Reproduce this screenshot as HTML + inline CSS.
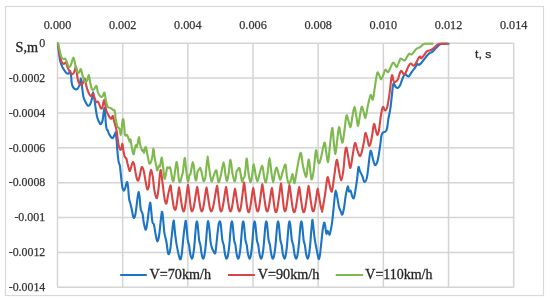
<!DOCTYPE html><html><head><meta charset="utf-8"><style>html,body{margin:0;padding:0;background:#fff;}svg{display:block;}</style></head><body>
<svg width="550" height="303" viewBox="0 0 550 303">
<rect x="0" y="0" width="550" height="303" fill="#fff"/>
<rect x="5.5" y="6.5" width="538" height="289" fill="none" stroke="#d9d9d9" stroke-width="1.2"/>
<line x1="57.50" y1="43.20" x2="57.50" y2="287.29" stroke="#d4d4d4" stroke-width="1.5"/>
<line x1="122.67" y1="43.20" x2="122.67" y2="287.29" stroke="#d4d4d4" stroke-width="1.5"/>
<line x1="187.84" y1="43.20" x2="187.84" y2="287.29" stroke="#d4d4d4" stroke-width="1.5"/>
<line x1="253.01" y1="43.20" x2="253.01" y2="287.29" stroke="#d4d4d4" stroke-width="1.5"/>
<line x1="318.18" y1="43.20" x2="318.18" y2="287.29" stroke="#d4d4d4" stroke-width="1.5"/>
<line x1="383.35" y1="43.20" x2="383.35" y2="287.29" stroke="#d4d4d4" stroke-width="1.5"/>
<line x1="448.52" y1="43.20" x2="448.52" y2="287.29" stroke="#d4d4d4" stroke-width="1.5"/>
<line x1="513.69" y1="43.20" x2="513.69" y2="287.29" stroke="#d4d4d4" stroke-width="1.5"/>
<line x1="57.50" y1="43.20" x2="513.69" y2="43.20" stroke="#d4d4d4" stroke-width="1.5"/>
<line x1="57.50" y1="78.07" x2="513.69" y2="78.07" stroke="#d4d4d4" stroke-width="1.5"/>
<line x1="57.50" y1="112.94" x2="513.69" y2="112.94" stroke="#d4d4d4" stroke-width="1.5"/>
<line x1="57.50" y1="147.81" x2="513.69" y2="147.81" stroke="#d4d4d4" stroke-width="1.5"/>
<line x1="57.50" y1="182.68" x2="513.69" y2="182.68" stroke="#d4d4d4" stroke-width="1.5"/>
<line x1="57.50" y1="217.55" x2="513.69" y2="217.55" stroke="#d4d4d4" stroke-width="1.5"/>
<line x1="57.50" y1="252.42" x2="513.69" y2="252.42" stroke="#d4d4d4" stroke-width="1.5"/>
<line x1="57.50" y1="287.29" x2="513.69" y2="287.29" stroke="#d4d4d4" stroke-width="1.5"/>
<text x="57.50" y="29.1" font-family="Liberation Serif, serif" font-size="13.3" text-anchor="middle" fill="#333" stroke="#333" stroke-width="0.25" textLength="27.5" lengthAdjust="spacingAndGlyphs">0.000</text>
<text x="122.67" y="29.1" font-family="Liberation Serif, serif" font-size="13.3" text-anchor="middle" fill="#333" stroke="#333" stroke-width="0.25" textLength="27.5" lengthAdjust="spacingAndGlyphs">0.002</text>
<text x="187.84" y="29.1" font-family="Liberation Serif, serif" font-size="13.3" text-anchor="middle" fill="#333" stroke="#333" stroke-width="0.25" textLength="27.5" lengthAdjust="spacingAndGlyphs">0.004</text>
<text x="253.01" y="29.1" font-family="Liberation Serif, serif" font-size="13.3" text-anchor="middle" fill="#333" stroke="#333" stroke-width="0.25" textLength="27.5" lengthAdjust="spacingAndGlyphs">0.006</text>
<text x="318.18" y="29.1" font-family="Liberation Serif, serif" font-size="13.3" text-anchor="middle" fill="#333" stroke="#333" stroke-width="0.25" textLength="27.5" lengthAdjust="spacingAndGlyphs">0.008</text>
<text x="383.35" y="29.1" font-family="Liberation Serif, serif" font-size="13.3" text-anchor="middle" fill="#333" stroke="#333" stroke-width="0.25" textLength="27.5" lengthAdjust="spacingAndGlyphs">0.010</text>
<text x="448.52" y="29.1" font-family="Liberation Serif, serif" font-size="13.3" text-anchor="middle" fill="#333" stroke="#333" stroke-width="0.25" textLength="27.5" lengthAdjust="spacingAndGlyphs">0.012</text>
<text x="513.69" y="29.1" font-family="Liberation Serif, serif" font-size="13.3" text-anchor="middle" fill="#333" stroke="#333" stroke-width="0.25" textLength="27.5" lengthAdjust="spacingAndGlyphs">0.014</text>
<text x="39.30" y="46.90" font-family="Liberation Serif, serif" font-size="13" fill="#333" stroke="#333" stroke-width="0.25" textLength="6.0" lengthAdjust="spacingAndGlyphs">0</text>
<text x="8.70" y="81.77" font-family="Liberation Serif, serif" font-size="13" fill="#333" stroke="#333" stroke-width="0.25" textLength="36.6" lengthAdjust="spacingAndGlyphs">-0.0002</text>
<text x="8.70" y="116.64" font-family="Liberation Serif, serif" font-size="13" fill="#333" stroke="#333" stroke-width="0.25" textLength="36.6" lengthAdjust="spacingAndGlyphs">-0.0004</text>
<text x="8.70" y="151.51" font-family="Liberation Serif, serif" font-size="13" fill="#333" stroke="#333" stroke-width="0.25" textLength="36.6" lengthAdjust="spacingAndGlyphs">-0.0006</text>
<text x="8.70" y="186.38" font-family="Liberation Serif, serif" font-size="13" fill="#333" stroke="#333" stroke-width="0.25" textLength="36.6" lengthAdjust="spacingAndGlyphs">-0.0008</text>
<text x="14.40" y="221.25" font-family="Liberation Serif, serif" font-size="13" fill="#333" stroke="#333" stroke-width="0.25" textLength="30.9" lengthAdjust="spacingAndGlyphs">-0.001</text>
<text x="8.70" y="256.12" font-family="Liberation Serif, serif" font-size="13" fill="#333" stroke="#333" stroke-width="0.25" textLength="36.6" lengthAdjust="spacingAndGlyphs">-0.0012</text>
<text x="8.70" y="290.99" font-family="Liberation Serif, serif" font-size="13" fill="#333" stroke="#333" stroke-width="0.25" textLength="36.6" lengthAdjust="spacingAndGlyphs">-0.0014</text>
<text x="15.5" y="52.2" font-family="Liberation Serif, serif" font-size="13.6" fill="#262626" stroke="#262626" stroke-width="0.3" textLength="22.5" lengthAdjust="spacingAndGlyphs">S,m</text>
<text x="475" y="58.4" font-family="Liberation Sans, sans-serif" font-size="11.8" fill="#262626" stroke="#262626" stroke-width="0.25" textLength="16.3" lengthAdjust="spacingAndGlyphs">t, s</text>
<path d="M57.90,43.60 C58.02,44.67 58.23,47.20 58.60,50.00 C58.97,52.80 59.48,57.58 60.10,60.40 C60.72,63.22 61.57,65.22 62.30,66.90 C63.03,68.58 63.78,69.45 64.50,70.50 C65.22,71.55 65.88,72.70 66.60,73.20 C67.32,73.70 68.18,73.82 68.80,73.50 C69.42,73.18 69.88,70.58 70.30,71.30 C70.72,72.02 71.07,75.85 71.30,77.80 C71.53,79.75 71.38,81.40 71.70,83.00 C72.02,84.60 72.58,86.35 73.20,87.40 C73.82,88.45 74.68,89.07 75.40,89.30 C76.12,89.53 76.78,89.60 77.50,88.80 C78.22,88.00 79.13,86.20 79.70,84.50 C80.27,82.80 80.53,78.48 80.90,78.60 C81.27,78.72 81.48,82.17 81.90,85.20 C82.32,88.23 82.80,94.02 83.40,96.80 C84.00,99.58 84.78,100.45 85.50,101.90 C86.22,103.35 86.97,105.02 87.70,105.50 C88.43,105.98 89.17,106.00 89.90,104.80 C90.63,103.60 91.57,100.40 92.10,98.30 C92.63,96.20 92.73,92.20 93.10,92.20 C93.47,92.20 93.87,95.58 94.30,98.30 C94.73,101.02 95.22,105.35 95.70,108.50 C96.18,111.65 96.53,114.77 97.20,117.20 C97.87,119.63 99.03,122.00 99.70,123.10 C100.37,124.20 100.72,124.28 101.20,123.80 C101.68,123.32 102.03,122.83 102.60,120.20 C103.17,117.57 104.07,107.48 104.60,108.00 C105.13,108.52 105.45,119.80 105.80,123.30 C106.15,126.80 106.35,127.77 106.70,129.00 C107.05,130.23 107.57,130.00 107.90,130.70 C108.23,131.40 108.35,132.38 108.70,133.20 C109.05,134.02 109.58,134.92 110.00,135.60 C110.42,136.28 110.77,136.85 111.20,137.30 C111.63,137.75 112.18,138.43 112.60,138.30 C113.02,138.17 113.32,137.22 113.70,136.50 C114.08,135.78 114.57,134.70 114.90,134.00 C115.23,133.30 115.48,131.88 115.70,132.30 C115.92,132.72 116.03,135.05 116.20,136.50 C116.37,137.95 116.52,138.75 116.70,141.00 C116.88,143.25 116.98,146.57 117.30,150.00 C117.62,153.43 118.17,159.00 118.60,161.60 C119.03,164.20 119.57,163.83 119.90,165.60 C120.23,167.37 120.32,169.57 120.60,172.20 C120.88,174.83 121.28,178.77 121.60,181.40 C121.92,184.03 122.12,186.47 122.50,188.00 C122.88,189.53 123.45,190.60 123.90,190.60 C124.35,190.60 124.83,188.98 125.20,188.00 C125.57,187.02 125.77,185.68 126.10,184.70 C126.43,183.72 126.85,181.55 127.20,182.10 C127.55,182.65 127.88,185.18 128.20,188.00 C128.52,190.82 128.72,196.35 129.10,199.00 C129.48,201.65 130.05,202.10 130.50,203.90 C130.95,205.70 131.30,207.53 131.80,209.80 C132.30,212.07 132.95,216.52 133.50,217.50 C134.05,218.48 134.62,217.42 135.10,215.70 C135.58,213.98 135.97,210.38 136.40,207.20 C136.83,204.02 137.30,199.13 137.70,196.60 C138.10,194.07 138.47,191.78 138.80,192.00 C139.13,192.22 139.38,195.07 139.70,197.90 C140.02,200.73 140.22,206.33 140.70,209.00 C141.18,211.67 142.10,211.67 142.60,213.90 C143.10,216.13 143.25,219.88 143.70,222.40 C144.15,224.92 144.87,228.00 145.30,229.00 C145.73,230.00 145.90,229.93 146.30,228.40 C146.70,226.87 147.25,223.00 147.70,219.80 C148.15,216.60 148.57,212.07 149.00,209.20 C149.43,206.33 149.93,202.37 150.30,202.60 C150.67,202.83 150.83,207.30 151.20,210.60 C151.57,213.90 152.05,220.10 152.50,222.40 C152.95,224.70 153.40,222.53 153.90,224.40 C154.40,226.27 154.93,230.78 155.50,233.60 C156.07,236.42 156.70,240.98 157.30,241.30 C157.90,241.62 158.50,239.20 159.10,235.50 C159.70,231.80 160.38,223.05 160.90,219.10 C161.42,215.15 161.75,210.90 162.20,211.80 C162.65,212.70 163.22,220.87 163.60,224.50 C163.98,228.13 164.03,230.72 164.50,233.60 C164.97,236.48 165.78,238.47 166.40,241.80 C167.02,245.13 167.60,252.08 168.20,253.60 C168.80,255.12 169.40,253.92 170.00,250.90 C170.60,247.88 171.20,240.57 171.80,235.50 C172.40,230.43 173.05,220.82 173.60,220.50 C174.15,220.18 174.55,229.28 175.10,233.60 C175.65,237.92 176.08,242.15 176.90,246.40 C177.72,250.65 179.18,257.90 180.00,259.10 C180.82,260.30 181.20,257.53 181.80,253.60 C182.40,249.67 182.98,240.88 183.60,235.50 C184.22,230.12 185.06,223.17 185.50,221.30 C185.94,219.43 185.99,222.48 186.24,224.28 C186.49,226.09 186.74,229.51 186.98,232.12 C187.23,234.73 187.50,238.21 187.72,239.95 C187.95,241.69 188.11,241.63 188.35,242.56 C188.59,243.49 188.90,244.12 189.15,245.55 C189.39,246.97 189.58,249.46 189.83,251.14 C190.08,252.82 190.32,254.37 190.63,255.62 C190.94,256.86 191.35,258.41 191.71,258.60 C192.07,258.79 192.43,258.23 192.80,256.74 C193.17,255.24 193.63,252.01 193.94,249.65 C194.24,247.29 194.37,245.42 194.62,242.56 C194.87,239.70 195.16,235.54 195.42,232.49 C195.67,229.44 195.91,226.15 196.16,224.28 C196.41,222.42 196.65,221.30 196.90,221.30 C197.15,221.30 197.39,222.48 197.63,224.28 C197.88,226.09 198.12,229.51 198.37,232.12 C198.61,234.73 198.88,238.21 199.10,239.95 C199.33,241.69 199.49,241.63 199.72,242.56 C199.96,243.49 200.27,244.12 200.52,245.55 C200.76,246.97 200.95,249.46 201.19,251.14 C201.44,252.82 201.67,254.37 201.98,255.62 C202.30,256.86 202.70,258.41 203.06,258.60 C203.42,258.79 203.76,258.23 204.13,256.74 C204.50,255.24 204.96,252.01 205.26,249.65 C205.56,247.29 205.70,245.42 205.94,242.56 C206.18,239.70 206.48,235.54 206.73,232.49 C206.99,229.44 207.22,226.15 207.47,224.28 C207.71,222.42 207.88,220.55 208.20,221.30 C208.52,222.05 208.99,225.34 209.38,228.76 C209.77,232.18 210.13,238.58 210.56,241.82 C210.99,245.05 211.48,246.60 211.98,248.16 C212.47,249.71 212.96,250.33 213.51,251.14 C214.06,251.95 214.79,254.25 215.28,253.01 C215.77,251.76 216.07,247.10 216.46,243.68 C216.85,240.26 217.25,235.85 217.64,232.49 C218.03,229.13 218.43,225.40 218.82,223.54 C219.21,221.67 219.67,221.18 220.00,221.30 C220.33,221.42 220.52,222.48 220.77,224.28 C221.03,226.09 221.29,229.51 221.55,232.12 C221.80,234.73 222.08,238.21 222.32,239.95 C222.56,241.69 222.73,241.63 222.97,242.56 C223.22,243.49 223.55,244.12 223.81,245.55 C224.07,246.97 224.26,249.46 224.52,251.14 C224.78,252.82 225.03,254.37 225.35,255.62 C225.68,256.86 226.11,258.41 226.49,258.60 C226.86,258.79 227.23,258.23 227.62,256.74 C228.00,255.24 228.49,252.01 228.81,249.65 C229.12,247.29 229.26,245.42 229.52,242.56 C229.78,239.70 230.09,235.54 230.35,232.49 C230.62,229.44 230.87,226.15 231.13,224.28 C231.38,222.42 231.65,221.30 231.90,221.30 C232.15,221.30 232.39,222.48 232.63,224.28 C232.88,226.09 233.12,229.51 233.37,232.12 C233.61,234.73 233.88,238.21 234.10,239.95 C234.33,241.69 234.49,241.63 234.72,242.56 C234.96,243.49 235.27,244.12 235.52,245.55 C235.76,246.97 235.95,249.46 236.19,251.14 C236.44,252.82 236.67,254.37 236.98,255.62 C237.30,256.86 237.70,258.41 238.06,258.60 C238.42,258.79 238.76,258.23 239.13,256.74 C239.50,255.24 239.96,252.01 240.26,249.65 C240.56,247.29 240.70,245.42 240.94,242.56 C241.18,239.70 241.48,235.54 241.73,232.49 C241.99,229.44 242.22,226.15 242.47,224.28 C242.71,222.42 242.95,221.30 243.20,221.30 C243.45,221.30 243.69,222.48 243.94,224.28 C244.19,226.09 244.44,229.51 244.68,232.12 C244.93,234.73 245.19,238.21 245.42,239.95 C245.65,241.69 245.81,241.63 246.05,242.56 C246.29,243.49 246.60,244.12 246.85,245.55 C247.09,246.97 247.28,249.46 247.53,251.14 C247.78,252.82 248.02,254.37 248.33,255.62 C248.64,256.86 249.05,258.41 249.41,258.60 C249.77,258.79 250.13,258.23 250.50,256.74 C250.87,255.24 251.33,252.01 251.64,249.65 C251.94,247.29 252.07,245.42 252.32,242.56 C252.57,239.70 252.86,235.54 253.12,232.49 C253.37,229.44 253.61,226.15 253.86,224.28 C254.11,222.42 254.35,221.30 254.60,221.30 C254.85,221.30 255.11,222.48 255.36,224.28 C255.61,226.09 255.87,229.51 256.12,232.12 C256.37,234.73 256.65,238.21 256.88,239.95 C257.12,241.69 257.28,241.63 257.52,242.56 C257.77,243.49 258.09,244.12 258.34,245.55 C258.60,246.97 258.79,249.46 259.05,251.14 C259.30,252.82 259.54,254.37 259.87,255.62 C260.19,256.86 260.61,258.41 260.98,258.60 C261.35,258.79 261.71,258.23 262.09,256.74 C262.47,255.24 262.95,252.01 263.26,249.65 C263.57,247.29 263.71,245.42 263.96,242.56 C264.21,239.70 264.52,235.54 264.78,232.49 C265.04,229.44 265.29,226.15 265.54,224.28 C265.79,222.42 266.05,221.30 266.30,221.30 C266.55,221.30 266.81,222.48 267.07,224.28 C267.32,226.09 267.58,229.51 267.83,232.12 C268.09,234.73 268.37,238.21 268.60,239.95 C268.84,241.69 269.00,241.63 269.25,242.56 C269.50,243.49 269.82,244.12 270.08,245.55 C270.33,246.97 270.53,249.46 270.78,251.14 C271.04,252.82 271.29,254.37 271.61,255.62 C271.93,256.86 272.36,258.41 272.73,258.60 C273.10,258.79 273.47,258.23 273.85,256.74 C274.24,255.24 274.72,252.01 275.03,249.65 C275.35,247.29 275.48,245.42 275.74,242.56 C276.00,239.70 276.30,235.54 276.57,232.49 C276.83,229.44 277.08,226.15 277.33,224.28 C277.59,222.42 277.85,221.30 278.10,221.30 C278.35,221.30 278.59,222.48 278.84,224.28 C279.09,226.09 279.33,229.51 279.58,232.12 C279.83,234.73 280.10,238.21 280.32,239.95 C280.55,241.69 280.71,241.63 280.95,242.56 C281.19,243.49 281.50,244.12 281.75,245.55 C282.00,246.97 282.19,249.46 282.43,251.14 C282.68,252.82 282.92,254.37 283.23,255.62 C283.54,256.86 283.95,258.41 284.31,258.60 C284.67,258.79 285.03,258.23 285.40,256.74 C285.77,255.24 286.23,252.01 286.54,249.65 C286.84,247.29 286.97,245.42 287.22,242.56 C287.47,239.70 287.76,235.54 288.02,232.49 C288.27,229.44 288.51,226.15 288.76,224.28 C289.01,222.42 289.25,221.30 289.50,221.30 C289.75,221.30 290.02,222.48 290.27,224.28 C290.53,226.09 290.79,229.51 291.05,232.12 C291.30,234.73 291.58,238.21 291.82,239.95 C292.06,241.69 292.23,241.63 292.48,242.56 C292.72,243.49 293.05,244.12 293.31,245.55 C293.57,246.97 293.76,249.46 294.02,251.14 C294.28,252.82 294.53,254.37 294.86,255.62 C295.18,256.86 295.61,258.41 295.99,258.60 C296.36,258.79 296.73,258.23 297.12,256.74 C297.50,255.24 297.99,252.01 298.31,249.65 C298.62,247.29 298.76,245.42 299.02,242.56 C299.28,239.70 299.59,235.54 299.85,232.49 C300.12,229.44 300.37,226.15 300.63,224.28 C300.88,222.42 301.15,221.30 301.40,221.30 C301.65,221.30 301.89,222.48 302.13,224.28 C302.37,226.09 302.61,229.51 302.86,232.12 C303.10,234.73 303.36,238.21 303.58,239.95 C303.81,241.69 303.97,241.63 304.20,242.56 C304.43,243.49 304.74,244.12 304.98,245.55 C305.23,246.97 305.41,249.46 305.66,251.14 C305.90,252.82 306.13,254.37 306.44,255.62 C306.75,256.86 307.15,258.41 307.50,258.60 C307.86,258.79 308.20,258.23 308.57,256.74 C308.93,255.24 309.39,252.01 309.69,249.65 C309.99,247.29 310.12,245.42 310.36,242.56 C310.60,239.70 310.89,235.54 311.14,232.49 C311.40,229.44 311.63,226.28 311.87,224.28 C312.11,222.29 312.16,218.33 312.60,220.50 C313.04,222.67 313.87,232.68 314.50,237.30 C315.13,241.92 315.63,244.57 316.40,248.20 C317.17,251.83 318.35,259.40 319.10,259.10 C319.85,258.80 320.30,251.25 320.90,246.40 C321.50,241.55 322.10,233.95 322.70,230.00 C323.30,226.05 323.88,222.10 324.50,222.70 C325.12,223.30 325.85,232.23 326.40,233.60 C326.95,234.97 327.27,230.75 327.80,230.90 C328.33,231.05 328.98,235.25 329.60,234.50 C330.22,233.75 330.98,229.27 331.50,226.40 C332.02,223.53 332.18,222.03 332.70,217.30 C333.22,212.57 334.10,202.45 334.60,198.00 C335.10,193.55 335.23,190.60 335.70,190.60 C336.17,190.60 336.85,195.25 337.40,198.00 C337.95,200.75 338.45,204.88 339.00,207.10 C339.55,209.32 340.15,210.05 340.70,211.30 C341.25,212.55 341.75,215.15 342.30,214.60 C342.85,214.05 343.45,211.03 344.00,208.00 C344.55,204.97 344.97,199.98 345.60,196.40 C346.23,192.82 347.25,187.32 347.80,186.50 C348.35,185.68 348.43,190.82 348.90,191.50 C349.37,192.18 350.05,189.78 350.60,190.60 C351.15,191.42 351.65,195.17 352.20,196.40 C352.75,197.63 353.35,199.10 353.90,198.00 C354.45,196.90 354.95,193.08 355.50,189.80 C356.05,186.52 356.70,182.08 357.20,178.30 C357.70,174.52 358.05,168.28 358.50,167.10 C358.95,165.92 359.27,169.72 359.90,171.20 C360.53,172.68 361.53,174.20 362.30,176.00 C363.07,177.80 363.70,181.90 364.50,182.00 C365.30,182.10 366.22,181.15 367.10,176.60 C367.98,172.05 369.15,158.93 369.80,154.70 C370.45,150.47 370.45,150.37 371.00,151.20 C371.55,152.03 372.43,157.40 373.10,159.70 C373.77,162.00 374.32,164.60 375.00,165.00 C375.68,165.40 376.57,163.82 377.20,162.10 C377.83,160.38 378.25,157.85 378.80,154.70 C379.35,151.55 380.03,146.50 380.50,143.20 C380.97,139.90 381.13,136.70 381.60,134.90 C382.07,133.10 382.67,132.95 383.30,132.40 C383.93,131.85 384.77,132.28 385.40,131.60 C386.03,130.92 386.58,130.57 387.10,128.30 C387.62,126.03 387.98,121.10 388.50,118.00 C389.02,114.90 389.68,113.02 390.20,109.70 C390.72,106.38 391.08,102.38 391.60,98.10 C392.12,93.82 392.63,85.88 393.30,84.00 C393.97,82.12 394.90,86.13 395.60,86.80 C396.30,87.47 396.77,88.23 397.50,88.00 C398.23,87.77 399.22,86.82 400.00,85.40 C400.78,83.98 401.43,81.40 402.20,79.50 C402.97,77.60 403.88,74.72 404.60,74.00 C405.32,73.28 405.78,74.82 406.50,75.20 C407.22,75.58 407.95,76.95 408.90,76.30 C409.85,75.65 411.17,72.75 412.20,71.30 C413.23,69.85 414.25,68.82 415.10,67.60 C415.95,66.38 416.57,64.48 417.30,64.00 C418.03,63.52 418.30,65.55 419.50,64.70 C420.70,63.85 423.30,60.35 424.50,58.90 C425.70,57.45 425.85,56.95 426.70,56.00 C427.55,55.05 428.67,53.90 429.60,53.20 C430.53,52.50 431.38,52.50 432.30,51.80 C433.22,51.10 434.18,49.92 435.10,49.00 C436.02,48.08 437.05,47.03 437.80,46.30 C438.55,45.57 438.98,45.00 439.60,44.60 C440.22,44.20 440.02,44.03 441.50,43.90 C442.98,43.77 447.33,43.82 448.50,43.80" fill="none" stroke="#1c74c4" stroke-width="2.1" stroke-linejoin="round" stroke-linecap="round"/>
<path d="M57.90,43.60 C58.05,44.50 58.43,46.93 58.80,49.00 C59.17,51.07 59.65,53.87 60.10,56.00 C60.55,58.13 60.90,60.47 61.50,61.80 C62.10,63.13 62.97,63.88 63.70,64.00 C64.43,64.12 65.28,62.02 65.90,62.50 C66.52,62.98 66.80,65.43 67.40,66.90 C68.00,68.37 68.78,70.08 69.50,71.30 C70.22,72.52 70.97,73.97 71.70,74.20 C72.43,74.43 73.17,73.92 73.90,72.70 C74.63,71.48 75.57,66.53 76.10,66.90 C76.63,67.27 76.73,72.47 77.10,74.90 C77.47,77.33 77.73,79.90 78.30,81.50 C78.87,83.10 79.78,84.13 80.50,84.50 C81.22,84.87 81.88,84.68 82.60,83.70 C83.32,82.72 84.18,78.23 84.80,78.60 C85.42,78.97 85.68,83.58 86.30,85.90 C86.92,88.22 87.78,90.80 88.50,92.50 C89.22,94.20 89.88,95.87 90.60,96.10 C91.32,96.33 92.18,93.67 92.80,93.90 C93.42,94.13 93.73,96.17 94.30,97.50 C94.87,98.83 95.60,101.22 96.20,101.90 C96.80,102.58 97.42,101.23 97.90,101.60 C98.38,101.97 98.68,103.13 99.10,104.10 C99.52,105.07 100.03,106.62 100.40,107.40 C100.77,108.18 100.97,108.80 101.30,108.80 C101.63,108.80 102.00,108.70 102.40,107.40 C102.80,106.10 103.35,102.18 103.70,101.00 C104.05,99.82 104.23,99.65 104.50,100.30 C104.77,100.95 105.03,103.30 105.30,104.90 C105.57,106.50 105.75,108.52 106.10,109.90 C106.45,111.28 106.98,112.25 107.40,113.20 C107.82,114.15 108.12,114.78 108.60,115.60 C109.08,116.42 109.82,117.60 110.30,118.10 C110.78,118.60 111.08,118.98 111.50,118.60 C111.92,118.22 112.43,115.73 112.80,115.80 C113.17,115.87 113.42,117.88 113.70,119.00 C113.98,120.12 114.23,121.42 114.50,122.50 C114.77,123.58 115.03,124.55 115.30,125.50 C115.57,126.45 115.82,126.95 116.10,128.20 C116.38,129.45 116.77,131.45 117.00,133.00 C117.23,134.55 117.33,136.17 117.50,137.50 C117.67,138.83 117.82,139.75 118.00,141.00 C118.18,142.25 118.35,143.78 118.60,145.00 C118.85,146.22 119.18,147.50 119.50,148.30 C119.82,149.10 120.18,149.72 120.50,149.80 C120.82,149.88 121.08,149.80 121.40,148.80 C121.72,147.80 122.05,143.45 122.40,143.80 C122.75,144.15 123.13,148.80 123.50,150.90 C123.87,153.00 124.13,155.13 124.60,156.40 C125.07,157.67 125.83,157.42 126.30,158.50 C126.77,159.58 126.98,161.25 127.40,162.90 C127.82,164.55 128.40,167.05 128.80,168.40 C129.20,169.75 129.40,171.23 129.80,171.00 C130.20,170.77 130.68,168.50 131.20,167.00 C131.72,165.50 132.37,162.23 132.90,162.00 C133.43,161.77 133.93,163.68 134.40,165.60 C134.87,167.52 135.25,171.20 135.70,173.50 C136.15,175.80 136.67,178.23 137.10,179.40 C137.53,180.57 137.87,181.05 138.30,180.50 C138.73,179.95 139.25,177.93 139.70,176.10 C140.15,174.27 140.60,171.02 141.00,169.50 C141.40,167.98 141.65,166.78 142.10,167.00 C142.55,167.22 143.12,168.40 143.70,170.80 C144.28,173.20 145.00,178.32 145.60,181.40 C146.20,184.48 146.75,188.53 147.30,189.30 C147.85,190.07 148.53,187.88 148.90,186.00 C149.27,184.12 149.17,180.67 149.50,178.00 C149.83,175.33 150.37,170.27 150.90,170.00 C151.43,169.73 152.10,172.92 152.70,176.40 C153.30,179.88 153.80,187.27 154.50,190.90 C155.20,194.53 156.20,198.80 156.90,198.20 C157.60,197.60 158.10,192.00 158.70,187.30 C159.30,182.60 159.88,170.92 160.50,170.00 C161.12,169.08 161.73,177.10 162.40,181.80 C163.07,186.50 163.83,194.57 164.50,198.20 C165.17,201.83 165.78,204.22 166.40,203.60 C167.02,202.98 167.53,197.52 168.20,194.50 C168.87,191.48 169.90,186.26 170.40,185.50 C170.90,184.74 170.92,188.33 171.18,189.96 C171.44,191.59 171.71,193.49 171.97,195.30 C172.23,197.11 172.49,199.08 172.75,200.79 C173.01,202.51 173.27,204.24 173.53,205.58 C173.79,206.92 174.06,208.11 174.32,208.84 C174.58,209.58 174.86,209.99 175.10,210.00 C175.34,210.01 175.54,209.61 175.77,208.93 C175.99,208.25 176.21,207.15 176.43,205.91 C176.66,204.66 176.88,203.06 177.10,201.47 C177.32,199.88 177.54,198.05 177.77,196.38 C177.99,194.71 178.21,192.95 178.43,191.43 C178.66,189.92 178.86,187.26 179.10,187.30 C179.34,187.34 179.60,190.08 179.85,191.69 C180.10,193.29 180.35,195.16 180.60,196.94 C180.85,198.72 181.10,200.66 181.35,202.34 C181.60,204.03 181.85,205.73 182.10,207.05 C182.35,208.37 182.60,209.54 182.85,210.26 C183.10,210.99 183.35,211.42 183.60,211.40 C183.85,211.38 184.09,210.94 184.33,210.13 C184.58,209.32 184.82,208.02 185.07,206.55 C185.31,205.07 185.56,203.17 185.80,201.29 C186.04,199.41 186.29,197.24 186.53,195.26 C186.78,193.28 187.02,191.19 187.27,189.40 C187.51,187.60 187.77,184.50 188.00,184.50 C188.23,184.50 188.44,187.60 188.67,189.40 C188.89,191.19 189.11,193.28 189.33,195.26 C189.56,197.24 189.78,199.41 190.00,201.29 C190.22,203.17 190.44,205.07 190.67,206.55 C190.89,208.02 191.11,209.32 191.33,210.13 C191.56,210.94 191.74,211.38 192.00,211.40 C192.26,211.42 192.58,210.98 192.87,210.24 C193.16,209.51 193.44,208.32 193.73,206.98 C194.02,205.64 194.31,203.91 194.60,202.19 C194.89,200.48 195.18,198.51 195.47,196.70 C195.76,194.89 196.04,192.99 196.33,191.36 C196.62,189.73 196.93,186.90 197.20,186.90 C197.47,186.90 197.71,189.73 197.97,191.36 C198.22,192.99 198.48,194.89 198.73,196.70 C198.99,198.51 199.24,200.48 199.50,202.19 C199.76,203.91 200.01,205.64 200.27,206.98 C200.52,208.32 200.78,209.51 201.03,210.24 C201.29,210.98 201.54,211.40 201.80,211.40 C202.06,211.40 202.32,210.99 202.58,210.26 C202.84,209.54 203.11,208.37 203.37,207.05 C203.63,205.73 203.89,204.03 204.15,202.34 C204.41,200.66 204.67,198.72 204.93,196.94 C205.19,195.16 205.46,193.29 205.72,191.69 C205.98,190.08 206.24,187.30 206.50,187.30 C206.76,187.30 207.02,190.08 207.28,191.69 C207.54,193.29 207.81,195.16 208.07,196.94 C208.33,198.72 208.59,200.66 208.85,202.34 C209.11,204.03 209.37,205.73 209.63,207.05 C209.89,208.37 210.16,209.54 210.42,210.26 C210.68,210.99 210.91,211.41 211.20,211.40 C211.49,211.39 211.86,210.96 212.18,210.18 C212.51,209.40 212.84,208.15 213.17,206.73 C213.49,205.31 213.82,203.48 214.15,201.67 C214.48,199.86 214.81,197.77 215.13,195.86 C215.46,193.95 215.79,191.94 216.12,190.22 C216.44,188.49 216.83,185.50 217.10,185.50 C217.37,185.50 217.53,188.50 217.75,190.23 C217.97,191.97 218.18,193.98 218.40,195.90 C218.62,197.82 218.83,199.91 219.05,201.73 C219.27,203.55 219.48,205.39 219.70,206.81 C219.92,208.23 220.13,209.49 220.35,210.27 C220.57,211.05 220.75,211.49 221.00,211.50 C221.25,211.51 221.57,211.08 221.85,210.33 C222.13,209.59 222.42,208.40 222.70,207.04 C222.98,205.69 223.27,203.95 223.55,202.22 C223.83,200.49 224.12,198.50 224.40,196.68 C224.68,194.86 224.97,192.94 225.25,191.30 C225.53,189.65 225.84,186.80 226.10,186.80 C226.36,186.80 226.59,189.64 226.83,191.28 C227.08,192.92 227.32,194.83 227.57,196.64 C227.81,198.45 228.06,200.44 228.30,202.16 C228.54,203.88 228.79,205.62 229.03,206.96 C229.28,208.31 229.52,209.50 229.77,210.24 C230.01,210.98 230.25,211.39 230.50,211.40 C230.75,211.41 231.00,211.01 231.25,210.32 C231.50,209.64 231.75,208.54 232.00,207.29 C232.25,206.04 232.50,204.43 232.75,202.83 C233.00,201.24 233.25,199.40 233.50,197.72 C233.75,196.04 234.00,194.27 234.25,192.75 C234.50,191.23 234.75,188.60 235.00,188.60 C235.25,188.60 235.50,191.23 235.75,192.75 C236.00,194.27 236.25,196.04 236.50,197.72 C236.75,199.40 237.00,201.24 237.25,202.83 C237.50,204.43 237.75,206.04 238.00,207.29 C238.25,208.54 238.50,209.64 238.75,210.32 C239.00,211.01 239.25,211.45 239.50,211.40 C239.75,211.35 240.01,210.90 240.27,210.03 C240.52,209.15 240.78,207.74 241.03,206.15 C241.29,204.56 241.54,202.50 241.80,200.47 C242.06,198.43 242.31,196.08 242.57,193.94 C242.82,191.80 243.08,189.54 243.33,187.60 C243.59,185.66 243.85,182.27 244.10,182.30 C244.35,182.33 244.60,185.76 244.85,187.76 C245.10,189.76 245.35,192.09 245.60,194.30 C245.85,196.51 246.10,198.93 246.35,201.03 C246.60,203.13 246.85,205.25 247.10,206.89 C247.35,208.53 247.60,209.98 247.85,210.88 C248.10,211.78 248.35,212.26 248.60,212.30 C248.85,212.34 249.11,211.88 249.37,211.14 C249.62,210.40 249.88,209.21 250.13,207.86 C250.39,206.52 250.64,204.78 250.90,203.06 C251.16,201.34 251.41,199.35 251.67,197.54 C251.92,195.73 252.18,193.82 252.43,192.18 C252.69,190.54 252.95,187.73 253.20,187.70 C253.45,187.67 253.70,190.44 253.95,192.02 C254.20,193.60 254.45,195.43 254.70,197.18 C254.95,198.93 255.20,200.84 255.45,202.50 C255.70,204.15 255.95,205.83 256.20,207.12 C256.45,208.42 256.70,209.57 256.95,210.28 C257.20,210.99 257.45,211.43 257.70,211.40 C257.95,211.37 258.21,210.93 258.47,210.11 C258.72,209.29 258.98,207.97 259.23,206.48 C259.49,204.98 259.74,203.05 260.00,201.14 C260.26,199.23 260.51,197.03 260.77,195.02 C261.02,193.01 261.28,190.89 261.53,189.07 C261.79,187.25 262.04,184.10 262.30,184.10 C262.56,184.10 262.84,187.25 263.12,189.07 C263.39,190.89 263.66,193.01 263.93,195.02 C264.21,197.03 264.48,199.23 264.75,201.14 C265.02,203.05 265.29,204.98 265.57,206.48 C265.84,207.97 266.11,209.29 266.38,210.11 C266.66,210.93 266.93,211.37 267.20,211.40 C267.47,211.43 267.72,210.99 267.98,210.28 C268.24,209.57 268.51,208.42 268.77,207.12 C269.03,205.83 269.29,204.15 269.55,202.50 C269.81,200.84 270.07,198.93 270.33,197.18 C270.59,195.43 270.86,193.60 271.12,192.02 C271.38,190.44 271.66,187.67 271.90,187.70 C272.14,187.73 272.34,190.54 272.57,192.18 C272.79,193.82 273.01,195.73 273.23,197.54 C273.46,199.35 273.68,201.34 273.90,203.06 C274.12,204.78 274.34,206.52 274.57,207.86 C274.79,209.21 275.01,210.40 275.23,211.14 C275.46,211.88 275.65,212.34 275.90,212.30 C276.15,212.26 276.47,211.80 276.75,210.93 C277.03,210.05 277.32,208.64 277.60,207.05 C277.88,205.46 278.17,203.40 278.45,201.37 C278.73,199.33 279.02,196.98 279.30,194.84 C279.58,192.70 279.87,190.44 280.15,188.50 C280.43,186.56 280.75,183.23 281.00,183.20 C281.25,183.17 281.44,186.45 281.67,188.33 C281.89,190.21 282.11,192.40 282.33,194.48 C282.56,196.56 282.78,198.83 283.00,200.80 C283.22,202.78 283.44,204.77 283.67,206.31 C283.89,207.86 284.11,209.22 284.33,210.07 C284.56,210.92 284.76,211.39 285.00,211.40 C285.24,211.41 285.50,210.95 285.75,210.15 C286.00,209.36 286.25,208.08 286.50,206.64 C286.75,205.19 287.00,203.33 287.25,201.48 C287.50,199.63 287.75,197.51 288.00,195.56 C288.25,193.61 288.50,191.57 288.75,189.81 C289.00,188.05 289.25,184.97 289.50,185.00 C289.75,185.03 290.01,188.15 290.27,189.97 C290.52,191.79 290.78,193.91 291.03,195.92 C291.29,197.93 291.54,200.13 291.80,202.04 C292.06,203.95 292.31,205.88 292.57,207.38 C292.82,208.87 293.08,210.19 293.33,211.01 C293.59,211.83 293.83,212.29 294.10,212.30 C294.37,212.31 294.67,211.86 294.95,211.10 C295.23,210.33 295.52,209.10 295.80,207.70 C296.08,206.30 296.37,204.50 296.65,202.72 C296.93,200.94 297.22,198.88 297.50,197.00 C297.78,195.12 298.07,193.14 298.35,191.44 C298.63,189.74 298.93,186.80 299.20,186.80 C299.47,186.80 299.70,189.74 299.95,191.44 C300.20,193.14 300.45,195.12 300.70,197.00 C300.95,198.88 301.20,200.94 301.45,202.72 C301.70,204.50 301.95,206.30 302.20,207.70 C302.45,209.10 302.70,210.33 302.95,211.10 C303.20,211.86 303.44,212.31 303.70,212.30 C303.96,212.29 304.24,211.85 304.52,211.05 C304.79,210.26 305.06,208.98 305.33,207.54 C305.61,206.09 305.88,204.23 306.15,202.38 C306.42,200.53 306.69,198.41 306.97,196.46 C307.24,194.51 307.51,192.47 307.78,190.71 C308.06,188.95 308.34,185.93 308.60,185.90 C308.86,185.87 309.11,188.84 309.37,190.54 C309.62,192.24 309.88,194.22 310.13,196.10 C310.39,197.98 310.64,200.04 310.90,201.82 C311.16,203.60 311.41,205.40 311.67,206.80 C311.92,208.20 312.18,209.43 312.43,210.20 C312.69,210.96 312.95,211.38 313.20,211.40 C313.45,211.42 313.70,211.01 313.95,210.32 C314.20,209.64 314.45,208.54 314.70,207.29 C314.95,206.04 315.20,204.43 315.45,202.83 C315.70,201.24 315.95,199.40 316.20,197.72 C316.45,196.04 316.70,194.27 316.95,192.75 C317.20,191.23 317.45,188.63 317.70,188.60 C317.95,188.57 318.21,191.13 318.47,192.59 C318.72,194.05 318.98,195.75 319.23,197.36 C319.49,198.97 319.74,200.74 320.00,202.27 C320.26,203.80 320.51,205.35 320.77,206.55 C321.02,207.75 321.28,208.81 321.53,209.47 C321.79,210.12 322.17,210.33 322.30,210.50 C322.43,210.67 321.85,213.08 322.30,210.50 C322.75,207.92 324.13,200.50 325.00,195.00 C325.87,189.50 326.77,179.33 327.50,177.50 C328.23,175.67 328.68,181.67 329.40,184.00 C330.12,186.33 331.03,192.50 331.80,191.50 C332.57,190.50 333.18,183.25 334.00,178.00 C334.82,172.75 335.90,161.33 336.70,160.00 C337.50,158.67 338.05,166.58 338.80,170.00 C339.55,173.42 340.43,180.50 341.20,180.50 C341.97,180.50 342.77,174.58 343.40,170.00 C344.03,165.42 344.50,156.72 345.00,153.00 C345.50,149.28 345.87,147.03 346.40,147.70 C346.93,148.37 347.53,153.62 348.20,157.00 C348.87,160.38 349.65,168.33 350.40,168.00 C351.15,167.67 351.93,159.17 352.70,155.00 C353.47,150.83 354.23,143.83 355.00,143.00 C355.77,142.17 356.52,147.83 357.30,150.00 C358.08,152.17 359.00,155.50 359.70,156.00 C360.40,156.50 360.78,155.42 361.50,153.00 C362.22,150.58 363.35,144.83 364.00,141.50 C364.65,138.17 364.85,133.55 365.40,133.00 C365.95,132.45 366.72,136.10 367.30,138.20 C367.88,140.30 368.35,144.77 368.90,145.60 C369.45,146.43 370.05,144.98 370.60,143.20 C371.15,141.42 371.63,138.10 372.20,134.90 C372.77,131.70 373.45,124.98 374.00,124.00 C374.55,123.02 374.93,127.17 375.50,129.00 C376.07,130.83 376.82,134.83 377.40,135.00 C377.98,135.17 378.40,133.33 379.00,130.00 C379.60,126.67 380.35,118.83 381.00,115.00 C381.65,111.17 382.22,107.75 382.90,107.00 C383.58,106.25 384.37,110.53 385.10,110.50 C385.83,110.47 386.57,109.60 387.30,106.80 C388.03,104.00 388.73,98.92 389.50,93.70 C390.27,88.48 391.15,77.45 391.90,75.50 C392.65,73.55 393.02,81.33 394.00,82.00 C394.98,82.67 396.67,81.33 397.80,79.50 C398.93,77.67 399.68,71.87 400.80,71.00 C401.92,70.13 403.22,75.10 404.50,74.30 C405.78,73.50 407.45,68.00 408.50,66.20 C409.55,64.40 409.82,63.62 410.80,63.50 C411.78,63.38 412.95,66.63 414.40,65.50 C415.85,64.37 418.30,57.92 419.50,56.70 C420.70,55.48 420.40,59.05 421.60,58.20 C422.80,57.35 425.48,52.87 426.70,51.60 C427.92,50.33 428.08,50.93 428.90,50.60 C429.72,50.27 430.67,50.15 431.60,49.60 C432.53,49.05 433.67,48.03 434.50,47.30 C435.33,46.57 435.98,45.73 436.60,45.20 C437.22,44.67 437.63,44.33 438.20,44.10 C438.77,43.87 438.48,43.85 440.00,43.80 C441.52,43.75 446.08,43.80 447.30,43.80" fill="none" stroke="#d94545" stroke-width="2.1" stroke-linejoin="round" stroke-linecap="round"/>
<path d="M58.10,43.60 C58.27,44.25 58.78,46.13 59.10,47.50 C59.42,48.87 59.67,50.28 60.00,51.80 C60.33,53.32 60.72,55.53 61.10,56.60 C61.48,57.67 61.83,57.80 62.30,58.20 C62.77,58.60 63.43,58.93 63.90,59.00 C64.37,59.07 64.65,58.18 65.10,58.60 C65.55,59.02 65.98,60.12 66.60,61.50 C67.22,62.88 68.07,66.37 68.80,66.90 C69.53,67.43 70.23,66.27 71.00,64.70 C71.77,63.13 72.67,57.37 73.40,57.50 C74.13,57.63 74.78,63.20 75.40,65.50 C76.02,67.80 76.50,70.10 77.10,71.30 C77.70,72.50 78.37,73.07 79.00,72.70 C79.63,72.33 80.30,68.62 80.90,69.10 C81.50,69.58 81.95,73.53 82.60,75.60 C83.25,77.67 84.07,80.65 84.80,81.50 C85.53,82.35 86.32,81.78 87.00,80.70 C87.68,79.62 88.38,74.73 88.90,75.00 C89.42,75.27 89.57,79.88 90.10,82.30 C90.63,84.72 91.40,88.42 92.10,89.50 C92.80,90.58 93.57,89.40 94.30,88.80 C95.03,88.20 95.90,85.28 96.50,85.90 C97.10,86.52 97.30,90.80 97.90,92.50 C98.50,94.20 99.37,95.38 100.10,96.10 C100.83,96.82 101.57,97.40 102.30,96.80 C103.03,96.20 103.95,92.13 104.50,92.50 C105.05,92.87 105.12,96.70 105.60,99.00 C106.08,101.30 106.75,104.85 107.40,106.30 C108.05,107.75 108.83,107.33 109.50,107.70 C110.17,108.07 110.75,108.08 111.40,108.50 C112.05,108.92 112.83,109.80 113.40,110.20 C113.97,110.60 114.42,109.35 114.80,110.90 C115.18,112.45 115.40,117.43 115.70,119.50 C116.00,121.57 116.32,122.12 116.60,123.30 C116.88,124.48 117.07,125.88 117.40,126.60 C117.73,127.32 118.20,127.03 118.60,127.60 C119.00,128.17 119.45,128.73 119.80,130.00 C120.15,131.27 120.42,135.20 120.70,135.20 C120.98,135.20 121.22,132.22 121.50,130.00 C121.78,127.78 122.17,123.73 122.40,121.90 C122.63,120.07 122.68,119.15 122.90,119.00 C123.12,118.85 123.45,119.35 123.70,121.00 C123.95,122.65 124.20,126.60 124.40,128.90 C124.60,131.20 124.65,133.65 124.90,134.80 C125.15,135.95 125.57,135.80 125.90,135.80 C126.23,135.80 126.58,134.72 126.90,134.80 C127.22,134.88 127.35,135.18 127.80,136.30 C128.25,137.42 129.15,140.97 129.60,141.50 C130.05,142.03 130.20,138.93 130.50,139.50 C130.80,140.07 131.00,142.68 131.40,144.90 C131.80,147.12 132.48,151.32 132.90,152.80 C133.32,154.28 133.57,154.63 133.90,153.80 C134.23,152.97 134.58,149.28 134.90,147.80 C135.22,146.32 135.48,144.98 135.80,144.90 C136.12,144.82 136.47,147.63 136.80,147.30 C137.13,146.97 137.43,144.62 137.80,142.90 C138.17,141.18 138.67,137.00 139.00,137.00 C139.33,137.00 139.42,140.93 139.80,142.90 C140.18,144.87 140.88,147.48 141.30,148.80 C141.72,150.12 141.97,150.63 142.30,150.80 C142.63,150.97 143.02,149.47 143.30,149.80 C143.58,150.13 143.67,153.18 144.00,152.80 C144.33,152.42 144.93,148.33 145.30,147.50 C145.67,146.67 145.88,146.75 146.20,147.80 C146.52,148.85 146.82,151.77 147.20,153.80 C147.58,155.83 148.17,158.40 148.50,160.00 C148.83,161.60 148.82,163.00 149.20,163.40 C149.58,163.80 150.27,163.57 150.80,162.40 C151.33,161.23 151.95,158.68 152.40,156.40 C152.85,154.12 153.13,148.53 153.50,148.70 C153.87,148.87 154.13,154.48 154.60,157.40 C155.07,160.32 155.85,164.02 156.30,166.20 C156.75,168.38 156.85,170.60 157.30,170.50 C157.75,170.40 158.53,166.32 159.00,165.60 C159.47,164.88 159.67,167.55 160.10,166.20 C160.53,164.85 161.15,157.87 161.60,157.50 C162.05,157.13 162.32,160.48 162.80,164.00 C163.28,167.52 163.95,177.08 164.50,178.60 C165.05,180.12 165.65,174.93 166.10,173.10 C166.55,171.27 166.78,168.42 167.20,167.60 C167.62,166.78 168.12,168.22 168.60,168.20 C169.08,168.18 169.65,166.68 170.10,167.50 C170.55,168.32 170.90,171.02 171.30,173.10 C171.70,175.18 172.12,178.75 172.50,180.00 C172.88,181.25 173.13,182.32 173.60,180.60 C174.07,178.88 174.82,172.78 175.30,169.70 C175.78,166.62 176.10,162.50 176.50,162.10 C176.90,161.70 177.32,164.50 177.70,167.30 C178.08,170.10 178.42,176.42 178.80,178.90 C179.18,181.38 179.52,182.58 180.00,182.20 C180.48,181.82 181.22,178.30 181.70,176.60 C182.18,174.90 182.40,175.08 182.90,172.00 C183.40,168.92 184.20,158.88 184.70,158.10 C185.20,157.32 185.52,164.22 185.90,167.30 C186.28,170.38 186.62,174.18 187.00,176.60 C187.38,179.02 187.80,182.00 188.20,181.80 C188.60,181.60 189.02,176.75 189.40,175.40 C189.78,174.05 190.12,175.05 190.50,173.70 C190.88,172.35 191.32,169.23 191.70,167.30 C192.08,165.37 192.42,162.10 192.80,162.10 C193.18,162.10 193.62,164.70 194.00,167.30 C194.38,169.90 194.72,175.57 195.10,177.70 C195.48,179.83 195.90,181.05 196.30,180.10 C196.70,179.15 197.12,173.65 197.50,172.00 C197.88,170.35 198.13,170.88 198.60,170.20 C199.07,169.52 199.82,167.60 200.30,167.90 C200.78,168.20 201.10,170.37 201.50,172.00 C201.90,173.63 202.32,176.17 202.70,177.70 C203.08,179.23 203.33,181.38 203.80,181.20 C204.27,181.02 205.02,179.48 205.50,176.60 C205.98,173.72 206.35,167.00 206.70,163.90 C207.05,160.80 207.42,159.03 207.60,158.00 C207.78,156.97 207.47,155.47 207.80,157.70 C208.13,159.93 208.98,167.45 209.60,171.40 C210.22,175.35 210.83,180.65 211.50,181.40 C212.17,182.15 212.78,177.72 213.60,175.90 C214.42,174.08 215.58,169.43 216.40,170.50 C217.22,171.57 217.75,181.55 218.50,182.30 C219.25,183.05 220.05,178.33 220.90,175.00 C221.75,171.67 222.83,162.30 223.60,162.30 C224.37,162.30 224.92,171.88 225.50,175.00 C226.08,178.12 226.55,181.45 227.10,181.00 C227.65,180.55 228.23,175.83 228.80,172.30 C229.37,168.77 229.87,159.50 230.50,159.80 C231.13,160.10 231.85,170.50 232.60,174.10 C233.35,177.70 234.35,181.75 235.00,181.40 C235.65,181.05 236.07,173.87 236.50,172.00 C236.93,170.13 237.12,170.88 237.60,170.20 C238.08,169.52 238.92,167.42 239.40,167.90 C239.88,168.38 240.12,171.07 240.50,173.10 C240.88,175.13 241.40,178.70 241.70,180.10 C242.00,181.50 242.02,181.80 242.30,181.50 C242.58,181.20 243.02,179.15 243.40,178.30 C243.78,177.45 244.22,178.23 244.60,176.40 C244.98,174.57 245.33,170.27 245.70,167.30 C246.07,164.33 246.32,157.47 246.80,158.60 C247.28,159.73 247.98,170.15 248.60,174.10 C249.22,178.05 249.88,182.30 250.50,182.30 C251.12,182.30 251.77,177.13 252.30,174.10 C252.83,171.07 253.17,164.10 253.70,164.10 C254.23,164.10 254.88,171.22 255.50,174.10 C256.12,176.98 256.73,181.40 257.40,181.40 C258.07,181.40 258.68,176.68 259.50,174.10 C260.32,171.52 261.53,165.45 262.30,165.90 C263.07,166.35 263.50,174.07 264.10,176.80 C264.70,179.53 265.30,183.05 265.90,182.30 C266.50,181.55 267.10,176.33 267.70,172.30 C268.30,168.27 268.88,158.10 269.50,158.10 C270.12,158.10 270.78,168.27 271.40,172.30 C272.02,176.33 272.60,182.30 273.20,182.30 C273.80,182.30 274.40,174.73 275.00,172.30 C275.60,169.87 276.10,166.95 276.80,167.70 C277.50,168.45 278.58,174.83 279.20,176.80 C279.82,178.77 279.90,180.40 280.50,179.50 C281.10,178.60 281.97,173.88 282.80,171.40 C283.63,168.92 284.83,163.85 285.50,164.60 C286.17,165.35 286.28,172.80 286.80,175.90 C287.32,179.00 287.93,182.43 288.60,183.20 C289.27,183.97 290.13,182.02 290.80,180.50 C291.47,178.98 291.98,173.65 292.60,174.10 C293.22,174.55 293.80,183.80 294.50,183.20 C295.20,182.60 296.02,174.75 296.80,170.50 C297.58,166.25 298.50,160.58 299.20,157.70 C299.90,154.82 300.40,151.98 301.00,153.20 C301.60,154.42 302.13,161.52 302.80,165.00 C303.47,168.48 304.38,172.28 305.00,174.10 C305.62,175.92 305.90,178.33 306.50,175.90 C307.10,173.47 307.93,160.10 308.60,159.50 C309.27,158.90 309.98,168.97 310.50,172.30 C311.02,175.63 311.17,179.80 311.70,179.50 C312.23,179.20 313.00,175.33 313.70,170.50 C314.40,165.67 315.23,152.33 315.90,150.50 C316.57,148.67 317.13,157.42 317.70,159.50 C318.27,161.58 318.68,163.60 319.30,163.00 C319.92,162.40 320.53,159.32 321.40,155.90 C322.27,152.48 323.70,143.15 324.50,142.50 C325.30,141.85 325.60,148.75 326.20,152.00 C326.80,155.25 327.47,163.17 328.10,162.00 C328.73,160.83 329.32,150.67 330.00,145.00 C330.68,139.33 331.57,128.50 332.20,128.00 C332.83,127.50 333.27,137.67 333.80,142.00 C334.33,146.33 334.83,154.33 335.40,154.00 C335.97,153.67 336.60,144.47 337.20,140.00 C337.80,135.53 338.40,127.87 339.00,127.20 C339.60,126.53 340.20,133.45 340.80,136.00 C341.40,138.55 341.98,143.50 342.60,142.50 C343.22,141.50 343.85,134.50 344.50,130.00 C345.15,125.50 345.83,117.00 346.50,115.50 C347.17,114.00 347.82,119.08 348.50,121.00 C349.18,122.92 349.93,127.83 350.60,127.00 C351.27,126.17 351.85,119.37 352.50,116.00 C353.15,112.63 353.87,106.80 354.50,106.80 C355.13,106.80 355.70,112.80 356.30,116.00 C356.90,119.20 357.48,126.17 358.10,126.00 C358.72,125.83 359.38,118.20 360.00,115.00 C360.62,111.80 361.18,107.30 361.80,106.80 C362.42,106.30 363.08,110.18 363.70,112.00 C364.32,113.82 364.78,118.87 365.50,117.70 C366.22,116.53 367.13,108.78 368.00,105.00 C368.87,101.22 369.90,95.88 370.70,95.00 C371.50,94.12 372.17,100.58 372.80,99.70 C373.43,98.82 373.97,93.07 374.50,89.70 C375.03,86.33 375.50,82.37 376.00,79.50 C376.50,76.63 376.90,73.10 377.50,72.50 C378.10,71.90 378.98,74.75 379.60,75.90 C380.22,77.05 380.58,79.55 381.20,79.40 C381.82,79.25 382.60,76.63 383.30,75.00 C384.00,73.37 384.58,70.07 385.40,69.60 C386.22,69.13 387.25,72.77 388.20,72.20 C389.15,71.63 390.25,67.82 391.10,66.20 C391.95,64.58 392.57,62.62 393.30,62.50 C394.03,62.38 394.90,64.77 395.50,65.50 C396.10,66.23 396.30,67.52 396.90,66.90 C397.50,66.28 398.50,63.18 399.10,61.80 C399.70,60.42 399.90,58.97 400.50,58.60 C401.10,58.23 401.97,59.30 402.70,59.60 C403.43,59.90 404.17,60.88 404.90,60.40 C405.63,59.92 406.37,57.80 407.10,56.70 C407.83,55.60 408.57,54.17 409.30,53.80 C410.03,53.43 410.78,54.73 411.50,54.50 C412.22,54.27 412.77,53.37 413.60,52.40 C414.43,51.43 415.57,49.50 416.50,48.70 C417.43,47.90 418.42,48.00 419.20,47.60 C419.98,47.20 420.63,46.77 421.20,46.30 C421.77,45.83 422.12,45.20 422.60,44.80 C423.08,44.40 423.53,44.07 424.10,43.90 C424.67,43.73 424.58,43.82 426.00,43.80 C427.42,43.78 431.50,43.80 432.60,43.80" fill="none" stroke="#7db94c" stroke-width="2.1" stroke-linejoin="round" stroke-linecap="round"/>
<line x1="120.2" y1="275" x2="146.8" y2="275" stroke="#1c74c4" stroke-width="2"/>
<text x="149.5" y="278.7" font-family="Liberation Serif, serif" font-size="14.4" fill="#262626" stroke="#262626" stroke-width="0.3" textLength="61.5" lengthAdjust="spacingAndGlyphs">V=70km/h</text>
<line x1="228" y1="275" x2="254.8" y2="275" stroke="#d94545" stroke-width="2"/>
<text x="257.7" y="278.7" font-family="Liberation Serif, serif" font-size="14.4" fill="#262626" stroke="#262626" stroke-width="0.3" textLength="61.7" lengthAdjust="spacingAndGlyphs">V=90km/h</text>
<line x1="335.7" y1="275" x2="363.1" y2="275" stroke="#7db94c" stroke-width="2"/>
<text x="365.3" y="278.7" font-family="Liberation Serif, serif" font-size="14.4" fill="#262626" stroke="#262626" stroke-width="0.3" textLength="67.1" lengthAdjust="spacingAndGlyphs">V=110km/h</text>
</svg></body></html>
